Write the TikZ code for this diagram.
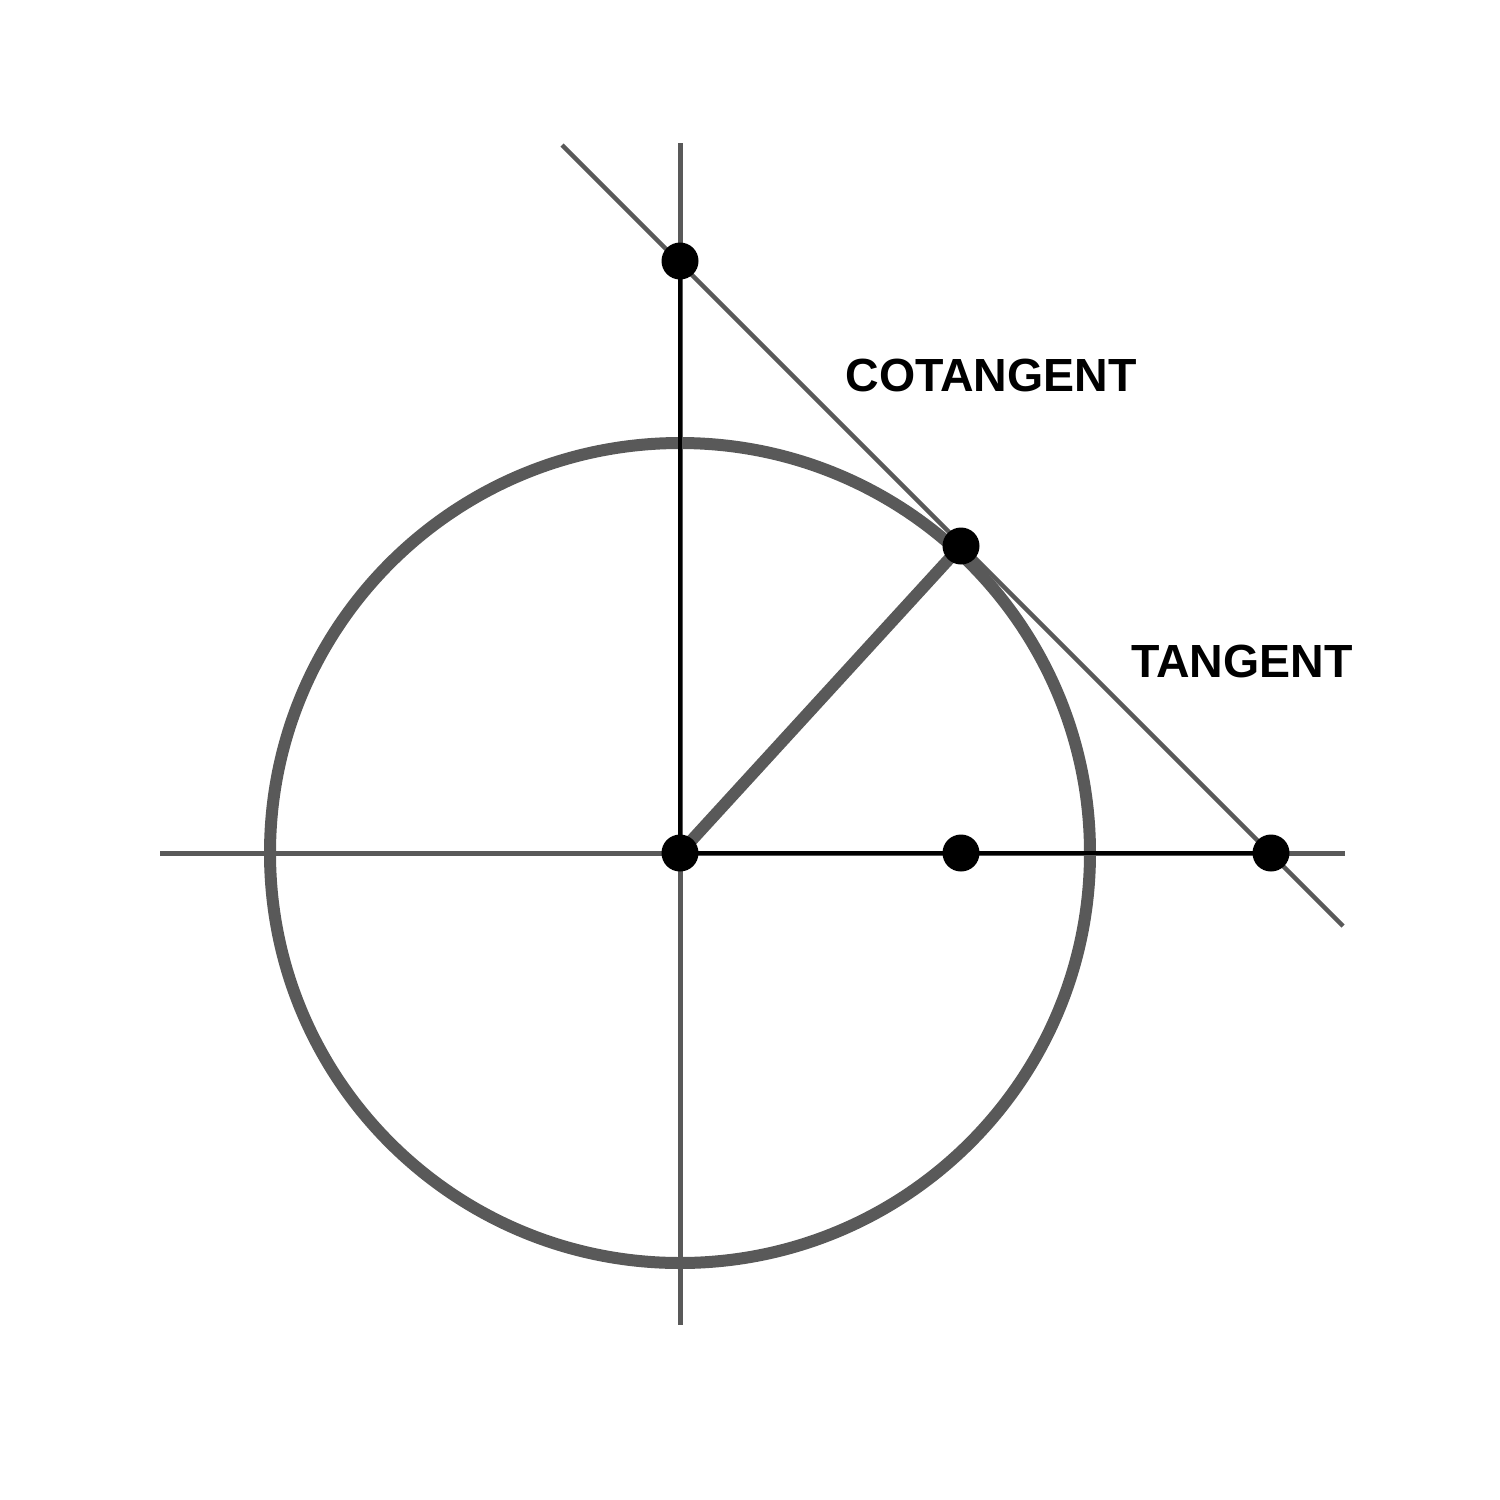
\documentclass[tikz,border=0pt]{standalone}
\usepackage{fontspec}
\setmainfont{Liberation Sans}
\usetikzlibrary{backgrounds}
\definecolor{axisgray}{HTML}{595959}
\begin{document}
\begin{tikzpicture}[x=1pt,y=-1pt,
  axis/.style={draw=axisgray,line width=5pt},
  thickgray/.style={draw=axisgray,line width=12pt},
  blackline/.style={draw=black,line width=4.5pt},
  dot/.style={circle,fill=black,inner sep=0pt,minimum size=37pt},
  lbl/.style={font=\fontsize{46.5}{50}\selectfont\bfseries,inner sep=0pt,anchor=center}]
\useasboundingbox (0,0) rectangle (1500,1500);
\coordinate (xl) at (160,853);
\coordinate (xr) at (1345,853);
\coordinate (yt) at (680,143);
\coordinate (yb) at (680,1325);
\coordinate (t1) at (562,145);
\coordinate (t2) at (1343,926);
\node[dot] (O) at (680,853) {};
\node[dot] (P) at (961,546) {};
\node[dot] (C) at (961,853) {};
\node[dot] (T) at (1271,853) {};
\node[dot] (K) at (680,261) {};
\begin{scope}[on background layer]
\draw[axis] (xl) -- (xr);
\draw[axis] (yt) -- (yb);
\draw[thickgray] (O.center) circle[radius=410];
\draw[blackline] (O.center) -- (K.center);
\draw[blackline] (O.center) -- (T.center);
\draw[thickgray] (O.center) -- (P.center);
\draw[draw=axisgray,line width=4.5pt] (t1) -- (t2);
\end{scope}
\node[lbl] (cot) at (991,375) {COTANGENT};
\node[lbl] (tan) at (1242,661) {TANGENT};
\end{tikzpicture}
\end{document}
